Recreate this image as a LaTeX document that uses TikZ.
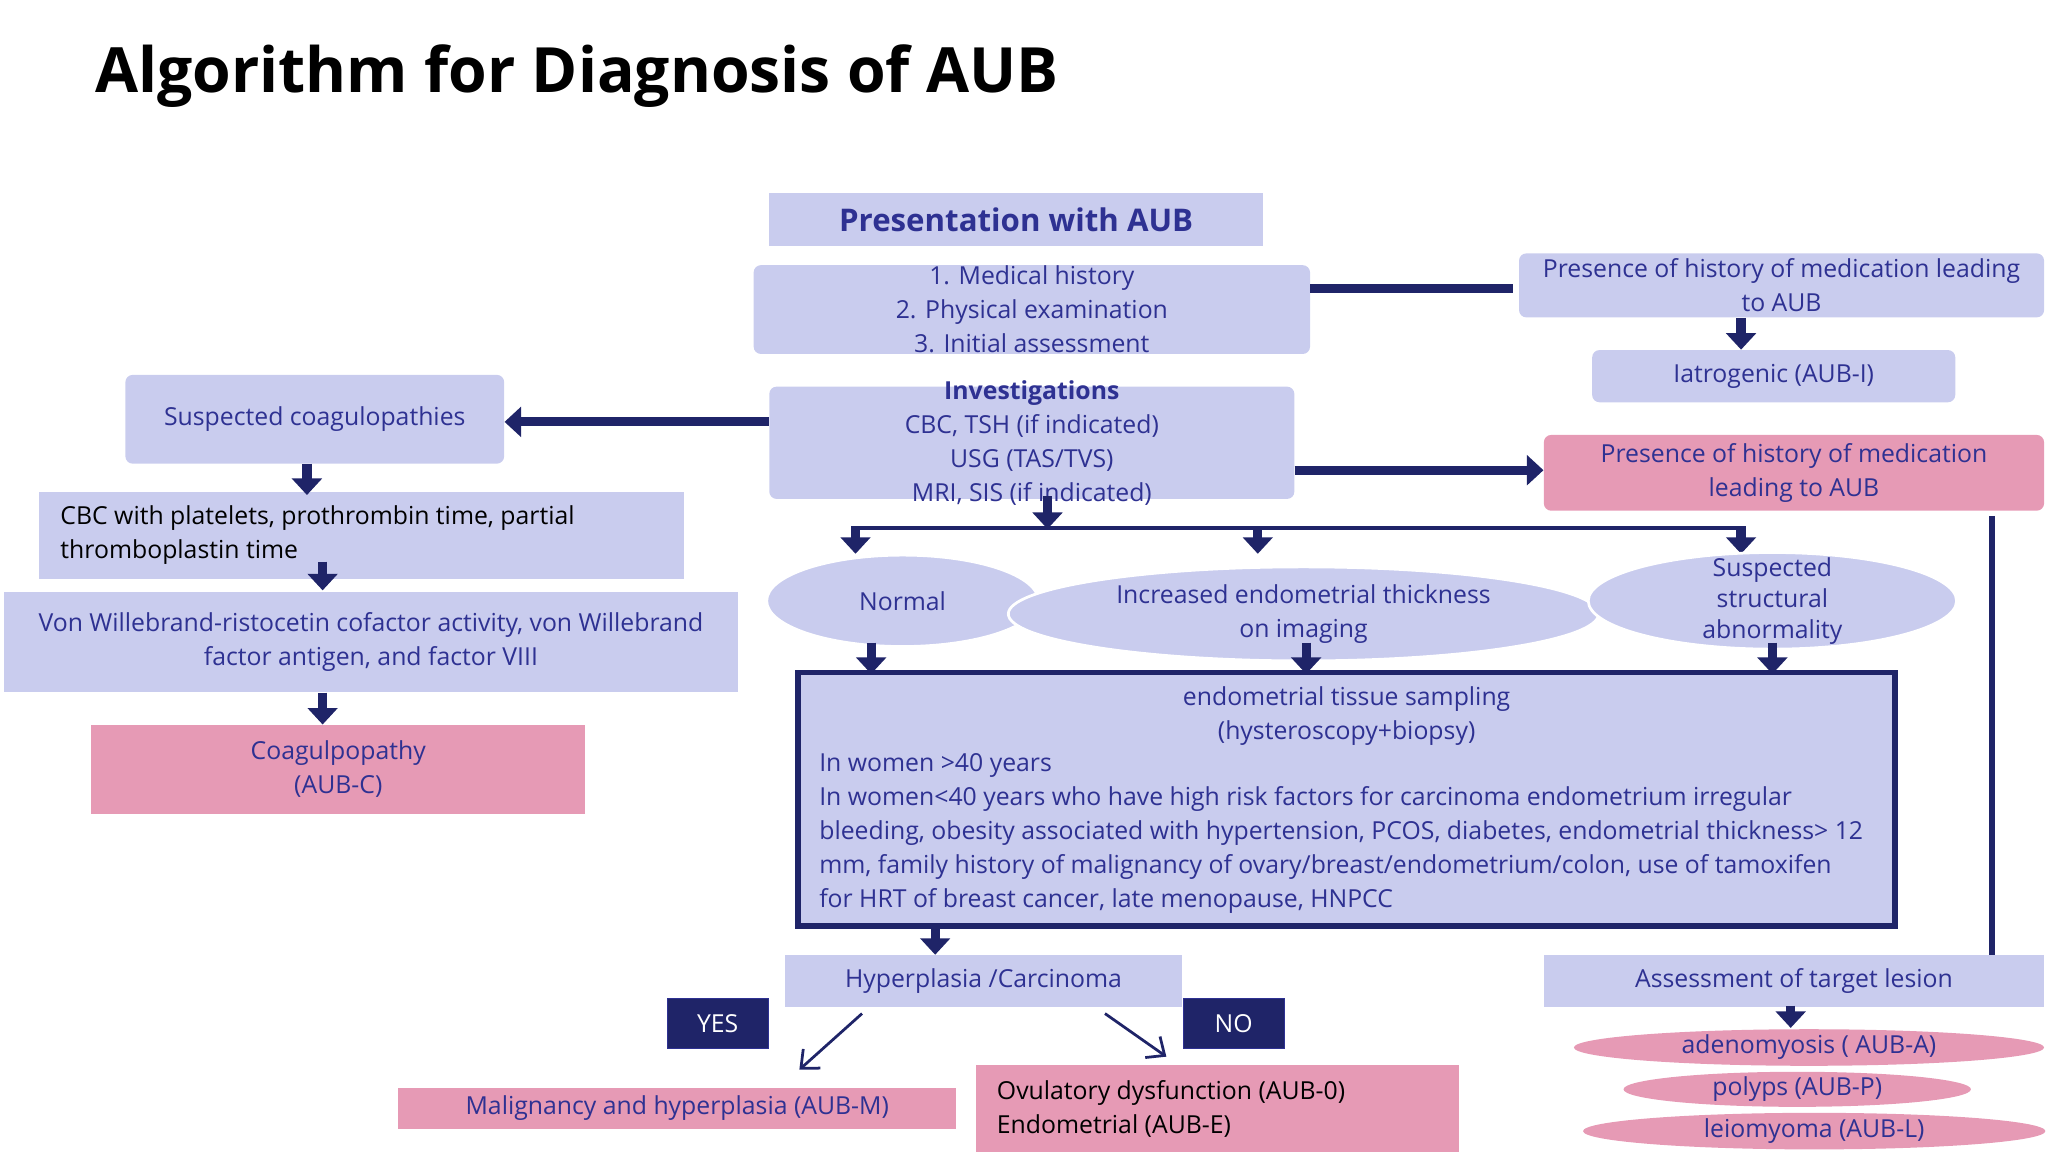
\documentclass[tikz,border=0pt]{standalone}
\usepackage{fontspec}
\setmainfont{Open Sans}
\usetikzlibrary{fit,arrows.meta,shapes.geometric}
\definecolor{lav}{HTML}{C9CCEE}
\definecolor{pinkb}{HTML}{E69AB5}
\definecolor{navyt}{HTML}{2E3192}
\definecolor{navyd}{HTML}{1F2468}
\begin{document}
\begin{tikzpicture}[x=0.025cm,y=-0.025cm,
  every node/.style={font=\fontsize{13.5}{18.5}\selectfont},
  lt/.style={text=navyt,align=center,inner sep=0pt},
  lk/.style={text=black,align=left,inner sep=0pt},
  box/.style={fill=lav,draw=none,inner sep=0pt},
  rbox/.style={box,rounded corners=4pt},
  pbox/.style={fill=pinkb,draw=none,inner sep=0pt},
  ell/.style={ellipse,fill=lav,draw=white,line width=1.5pt,inner sep=0pt},
  pell/.style={ellipse,fill=pinkb,inner sep=0pt,text=navyt},
  dar/.style={-{Triangle[width=16pt,length=9pt]},line width=5pt,draw=navyd},
  thk/.style={line width=5pt,draw=navyd},
  yn/.style={fill=navyd,draw=navyt,inner sep=0pt}]
\useasboundingbox (0,0) rectangle (1568,882);
\node[anchor=west,font=\fontsize{34}{40}\bfseries\selectfont] (title) at (68,58) {Algorithm for Diagnosis of AUB};

\node[box,fit={(589,148)(967,188)},label={[lt,font=\fontsize{17}{22}\bfseries\selectfont]center:Presentation with AUB}] (pres) {};
\node[rbox,fit={(577,203)(1003,271)},label={[lt]center:{1. Medical history\\2. Physical examination\\3. Initial assessment}}] (hist) {};
\node[rbox,fit={(1163,194)(1565,243)},label={[lt]center:{Presence of history of medication leading\\to AUB}}] (med1) {};
\node[rbox,fit={(1219,268)(1497,308)},label={[lt]center:Iatrogenic (AUB-I)}] (iat) {};
\draw[thk] (hist.east|-0,221) -- (1158,221) coordinate (m1);
\draw[dar] (med1.south-|1333,0) -- (iat.north-|1333,0);

\node[rbox,fit={(589,296)(991,382)},label={[lt]center:{\textbf{Investigations}\\CBC, TSH (if indicated)\\USG (TAS/TVS)\\MRI, SIS (if indicated)}}] (inv) {};
\node[rbox,fit={(96,287)(386,355)},label={[lt]center:Suspected coagulopathies}] (coag) {};
\draw[dar] (inv.west|-0,323) -- (coag.east|-0,323);
\node[box,fit={(30,377)(524,443)}] (cbc) {};
\node[lk,anchor=west] at (46,410) {CBC with platelets, prothrombin time, partial\\thromboplastin time};
\draw[dar] (235,355) -- (235,379);
\node[box,fit={(3,453)(565,530)},label={[lt]center:{Von Willebrand-ristocetin cofactor activity, von Willebrand\\factor antigen, and factor VIII}}] (vw) {};
\draw[dar] (247,430) -- (247,452);
\node[pbox,fit={(70,555)(448,623)},label={[lt]center:{Coagulpopathy\\(AUB-C)}}] (cp) {};
\draw[dar] (vw.south-|247,0) -- (cp.north-|247,0);

\node[rbox,fill=pinkb,fit={(1182,333)(1565,391)},label={[lt]center:{Presence of history of medication\\leading to AUB}}] (med2) {};
\draw[dar] (inv.east|-0,360) -- (med2.west|-0,360);
\draw[line width=3pt,draw=navyd] (1525,395) coordinate (v1) -- (1525,735) coordinate (v2);

\draw[line width=2pt,draw=navyd] (655,404) coordinate (h1) -- (1333,404) coordinate (h2);
\draw[dar] (802,380) -- (802,405);
\foreach \xx in {655,963,1333} \draw[dar] (\xx,403) -- (\xx,424);

\node[ell,minimum width=208*0.025cm,minimum height=70*0.025cm] (nor) at (691,460) {};
\node[lt] at (nor.center) {Normal};
\node[ell,minimum width=452*0.025cm,minimum height=72*0.025cm] (inc) at (998,470) {};
\node[lt] at (inc.center) {Increased endometrial thickness\\on imaging};
\node[ell,minimum width=282*0.025cm,minimum height=74*0.025cm] (sus) at (1357,460) {};
\node[lt,font=\fontsize{13.5}{17}\selectfont] at (1357,460) {Suspected\\structural\\abnormality};

\node[box,fit={(611,515)(1451,709)},draw=navyd,line width=3pt] (samp) {};
\node[lt] (st) at (1031,548) {endometrial tissue sampling\\(hysteroscopy+biopsy)};
\node[lt,align=left,anchor=north west] (sx) at (627,577) {In women >40 years\\In women<40 years who have high risk factors for carcinoma endometrium irregular\\bleeding, obesity associated with hypertension, PCOS, diabetes, endometrial thickness> 12\\mm, family history of malignancy of ovary/breast/endometrium/colon, use of tamoxifen\\for HRT of breast cancer, late menopause, HNPCC};
\draw[dar] (667,492) -- (667,516);
\draw[dar] (1000,492) -- (1000,516);
\draw[dar] (1357,492) -- (1357,516);

\node[box,fit={(601,731)(905,771)},label={[lt]center:Hyperplasia /Carcinoma}] (hyp) {};
\draw[dar] (716,708) -- (716,731);
\node[yn,fit={(511,764)(588,803)},label={[lt,text=white]center:YES}] (yes) {};
\node[yn,fit={(906,764)(983,803)},label={[lt,text=white]center:NO}] (no) {};
\node[pbox,fit={(305,833)(732,864)},label={[lt]center:Malignancy and hyperplasia (AUB-M)}] (mal) {};
\node[pbox,fit={(747,815)(1117,882)}] (ovu) {};
\node[lk,anchor=west] at (763,849) {Ovulatory dysfunction (AUB-0)\\Endometrial (AUB-E)};
\draw[-{Straight Barb[length=8pt,width=14pt]},line width=1.5pt,draw=navyd] (660,776) -- (612,819);
\draw[-{Straight Barb[length=8pt,width=14pt]},line width=1.5pt,draw=navyd] (846,776) -- (893,809);

\node[box,fit={(1182,731)(1565,771)},label={[lt]center:Assessment of target lesion}] (tl) {};
\draw[dar] (1371,770) -- (1371,787);
\node[pell,minimum width=360*0.025cm,minimum height=28*0.025cm] (ad) at (1385,802) {adenomyosis ( AUB-A)};
\node[pell,minimum width=266*0.025cm,minimum height=24*0.025cm] (po) at (1376,834) {polyps (AUB-P)};
\node[pell,minimum width=354*0.025cm,minimum height=28*0.025cm] (le) at (1389,866) {leiomyoma (AUB-L)};
\end{tikzpicture}
\end{document}
